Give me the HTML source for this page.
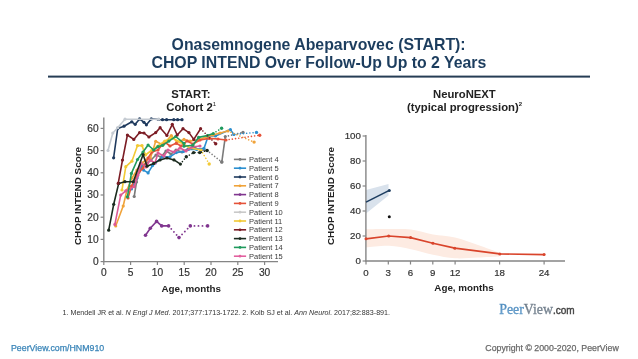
<!DOCTYPE html>
<html><head><meta charset="utf-8">
<style>
html,body{margin:0;padding:0;background:#fff;}
body{width:638px;height:359px;overflow:hidden;position:relative;font-family:"Liberation Sans",sans-serif;}
svg{position:absolute;left:0;top:0;filter:blur(0.4px);}
svg text{font-family:"Liberation Sans",sans-serif;}
</style></head><body>
<svg width="638" height="359" viewBox="0 0 638 359">
<text x="318.6" y="49.5" font-size="15.85" font-weight="700" fill="#1c3d5e" text-anchor="middle">Onasemnogene Abeparvovec (START):</text>
<text x="318.9" y="68.3" font-size="15.85" font-weight="700" fill="#1c3d5e" text-anchor="middle">CHOP INTEND Over Follow-Up Up to 2 Years</text>
<rect x="48" y="75.6" width="542" height="2" fill="#263d55"/>
<text x="190.9" y="97.6" font-size="11.3" font-weight="700" fill="#222" text-anchor="middle">START:</text>
<text x="166.3" y="110.8" font-size="11.3" font-weight="700" fill="#222">Cohort 2<tspan font-size="6" dy="-4.8" font-weight="400">1</tspan></text>
<text x="464.4" y="97.8" font-size="11.3" font-weight="700" fill="#222" text-anchor="middle">NeuroNEXT</text>
<text x="407" y="111" font-size="11.3" font-weight="700" fill="#222">(typical progression)<tspan font-size="6" dy="-4.8">2</tspan></text>
<text transform="translate(81,196) rotate(-90)" font-size="9.9" font-weight="700" fill="#222" text-anchor="middle">CHOP INTEND Score</text>
<text transform="translate(333.7,196) rotate(-90)" font-size="9.9" font-weight="700" fill="#222" text-anchor="middle">CHOP INTEND Score</text>
<text x="191.2" y="291.5" font-size="9.8" font-weight="700" fill="#222" text-anchor="middle">Age, months</text>
<text x="464" y="291" font-size="9.8" font-weight="700" fill="#222" text-anchor="middle">Age, months</text>
<line x1="103.8" y1="117.5" x2="103.8" y2="262" stroke="#858585" stroke-width="1.4"/>
<line x1="103.3" y1="261.6" x2="278" y2="261.6" stroke="#858585" stroke-width="1.4"/>
<line x1="100.6" y1="261.6" x2="103.8" y2="261.6" stroke="#858585" stroke-width="1.2"/>
<text x="98.6" y="264.9" font-size="10.2" fill="#333" stroke="#333" stroke-width="0.2" text-anchor="end">0</text>
<line x1="100.6" y1="239.4" x2="103.8" y2="239.4" stroke="#858585" stroke-width="1.2"/>
<text x="98.6" y="242.7" font-size="10.2" fill="#333" stroke="#333" stroke-width="0.2" text-anchor="end">10</text>
<line x1="100.6" y1="217.2" x2="103.8" y2="217.2" stroke="#858585" stroke-width="1.2"/>
<text x="98.6" y="220.5" font-size="10.2" fill="#333" stroke="#333" stroke-width="0.2" text-anchor="end">20</text>
<line x1="100.6" y1="195.0" x2="103.8" y2="195.0" stroke="#858585" stroke-width="1.2"/>
<text x="98.6" y="198.3" font-size="10.2" fill="#333" stroke="#333" stroke-width="0.2" text-anchor="end">30</text>
<line x1="100.6" y1="172.8" x2="103.8" y2="172.8" stroke="#858585" stroke-width="1.2"/>
<text x="98.6" y="176.1" font-size="10.2" fill="#333" stroke="#333" stroke-width="0.2" text-anchor="end">40</text>
<line x1="100.6" y1="150.6" x2="103.8" y2="150.6" stroke="#858585" stroke-width="1.2"/>
<text x="98.6" y="153.9" font-size="10.2" fill="#333" stroke="#333" stroke-width="0.2" text-anchor="end">50</text>
<line x1="100.6" y1="128.4" x2="103.8" y2="128.4" stroke="#858585" stroke-width="1.2"/>
<text x="98.6" y="131.7" font-size="10.2" fill="#333" stroke="#333" stroke-width="0.2" text-anchor="end">60</text>
<line x1="103.8" y1="261.6" x2="103.8" y2="265" stroke="#858585" stroke-width="1.2"/>
<text x="103.8" y="276.3" font-size="10.2" fill="#333" stroke="#333" stroke-width="0.2" text-anchor="middle">0</text>
<line x1="130.6" y1="261.6" x2="130.6" y2="265" stroke="#858585" stroke-width="1.2"/>
<text x="130.6" y="276.3" font-size="10.2" fill="#333" stroke="#333" stroke-width="0.2" text-anchor="middle">5</text>
<line x1="157.4" y1="261.6" x2="157.4" y2="265" stroke="#858585" stroke-width="1.2"/>
<text x="157.4" y="276.3" font-size="10.2" fill="#333" stroke="#333" stroke-width="0.2" text-anchor="middle">10</text>
<line x1="184.2" y1="261.6" x2="184.2" y2="265" stroke="#858585" stroke-width="1.2"/>
<text x="184.2" y="276.3" font-size="10.2" fill="#333" stroke="#333" stroke-width="0.2" text-anchor="middle">15</text>
<line x1="211.0" y1="261.6" x2="211.0" y2="265" stroke="#858585" stroke-width="1.2"/>
<text x="211.0" y="276.3" font-size="10.2" fill="#333" stroke="#333" stroke-width="0.2" text-anchor="middle">20</text>
<line x1="237.8" y1="261.6" x2="237.8" y2="265" stroke="#858585" stroke-width="1.2"/>
<text x="237.8" y="276.3" font-size="10.2" fill="#333" stroke="#333" stroke-width="0.2" text-anchor="middle">25</text>
<line x1="264.6" y1="261.6" x2="264.6" y2="265" stroke="#858585" stroke-width="1.2"/>
<text x="264.6" y="276.3" font-size="10.2" fill="#333" stroke="#333" stroke-width="0.2" text-anchor="middle">30</text>
<polygon points="366,190 388.5,184 388.5,195.5 366,213.6" fill="#d9e2ec"/>
<path d="M366,229.3 C369.8,229.2 381.5,229.0 389,229 C396.5,229.0 403.7,228.6 411,229.5 C418.3,230.4 425.7,233.2 433,234.5 C440.3,235.8 447.5,235.8 455,237.5 C462.5,239.2 470.7,242.5 478,245 C485.3,247.5 495.5,251.2 499,252.5 L499,256.5 C495.5,256.7 485.3,257.2 478,257.5 C470.7,257.8 462.5,258.8 455,258.3 C447.5,257.8 440.3,256.2 433,254.7 C425.7,253.2 418.3,250.8 411,249.3 C403.7,247.8 396.5,246.1 389,245.8 C381.5,245.5 369.8,247.2 366,247.5 Z" fill="#fdebe2"/>
<line x1="365.9" y1="135" x2="365.9" y2="261.5" stroke="#858585" stroke-width="1.4"/>
<line x1="365.4" y1="261" x2="565" y2="261" stroke="#858585" stroke-width="1.4"/>
<line x1="362.6" y1="261.0" x2="365.9" y2="261.0" stroke="#858585" stroke-width="1.2"/>
<text x="360.8" y="264.2" font-size="9.7" fill="#333" stroke="#333" stroke-width="0.2" text-anchor="end">0</text>
<line x1="362.6" y1="236.0" x2="365.9" y2="236.0" stroke="#858585" stroke-width="1.2"/>
<text x="360.8" y="239.2" font-size="9.7" fill="#333" stroke="#333" stroke-width="0.2" text-anchor="end">20</text>
<line x1="362.6" y1="211.0" x2="365.9" y2="211.0" stroke="#858585" stroke-width="1.2"/>
<text x="360.8" y="214.2" font-size="9.7" fill="#333" stroke="#333" stroke-width="0.2" text-anchor="end">40</text>
<line x1="362.6" y1="186.0" x2="365.9" y2="186.0" stroke="#858585" stroke-width="1.2"/>
<text x="360.8" y="189.2" font-size="9.7" fill="#333" stroke="#333" stroke-width="0.2" text-anchor="end">60</text>
<line x1="362.6" y1="161.0" x2="365.9" y2="161.0" stroke="#858585" stroke-width="1.2"/>
<text x="360.8" y="164.2" font-size="9.7" fill="#333" stroke="#333" stroke-width="0.2" text-anchor="end">80</text>
<line x1="362.6" y1="136.0" x2="365.9" y2="136.0" stroke="#858585" stroke-width="1.2"/>
<text x="360.8" y="139.2" font-size="9.7" fill="#333" stroke="#333" stroke-width="0.2" text-anchor="end">100</text>
<line x1="366.0" y1="261" x2="366.0" y2="264.5" stroke="#858585" stroke-width="1.2"/>
<text x="366.0" y="275.8" font-size="9.7" fill="#333" stroke="#333" stroke-width="0.2" text-anchor="middle">0</text>
<line x1="388.3" y1="261" x2="388.3" y2="264.5" stroke="#858585" stroke-width="1.2"/>
<text x="388.3" y="275.8" font-size="9.7" fill="#333" stroke="#333" stroke-width="0.2" text-anchor="middle">3</text>
<line x1="410.5" y1="261" x2="410.5" y2="264.5" stroke="#858585" stroke-width="1.2"/>
<text x="410.5" y="275.8" font-size="9.7" fill="#333" stroke="#333" stroke-width="0.2" text-anchor="middle">6</text>
<line x1="432.8" y1="261" x2="432.8" y2="264.5" stroke="#858585" stroke-width="1.2"/>
<text x="432.8" y="275.8" font-size="9.7" fill="#333" stroke="#333" stroke-width="0.2" text-anchor="middle">9</text>
<line x1="455.1" y1="261" x2="455.1" y2="264.5" stroke="#858585" stroke-width="1.2"/>
<text x="455.1" y="275.8" font-size="9.7" fill="#333" stroke="#333" stroke-width="0.2" text-anchor="middle">12</text>
<line x1="499.6" y1="261" x2="499.6" y2="264.5" stroke="#858585" stroke-width="1.2"/>
<text x="499.6" y="275.8" font-size="9.7" fill="#333" stroke="#333" stroke-width="0.2" text-anchor="middle">18</text>
<line x1="544.1" y1="261" x2="544.1" y2="264.5" stroke="#858585" stroke-width="1.2"/>
<text x="544.1" y="275.8" font-size="9.7" fill="#333" stroke="#333" stroke-width="0.2" text-anchor="middle">24</text>
<polyline points="366,202.1 389.3,190.4" fill="none" stroke="#1d3d60" stroke-width="1.6"/>
<circle cx="389.3" cy="190.4" r="1.5" fill="#1d3d60"/>
<circle cx="389.3" cy="216.8" r="1.5" fill="#111"/>
<polyline points="366,238.8 388.7,236 410.6,237.6 432.9,243.2 454.8,248.2 499.8,253.9 544.1,254.6" fill="none" stroke="#d9442b" stroke-width="1.7"/>
<circle cx="366" cy="238.8" r="1.5" fill="#d9442b"/>
<circle cx="388.7" cy="236" r="1.5" fill="#d9442b"/>
<circle cx="410.6" cy="237.6" r="1.5" fill="#d9442b"/>
<circle cx="432.9" cy="243.2" r="1.5" fill="#d9442b"/>
<circle cx="454.8" cy="248.2" r="1.5" fill="#d9442b"/>
<circle cx="499.8" cy="253.9" r="1.5" fill="#d9442b"/>
<circle cx="544.1" cy="254.6" r="1.5" fill="#d9442b"/>
<polyline points="134.2,196.5 136.5,182 139,172 143,165 147,163 151,160 156,155 161,157 166,151 171,154 176,150 182,152 188,149 195,148 201,150 207,150.5" fill="none" stroke="#7a7a7a" stroke-width="1.6" stroke-linejoin="round"/>
<circle cx="134.2" cy="196.5" r="1.6" fill="#7a7a7a"/>
<circle cx="136.5" cy="182" r="1.6" fill="#7a7a7a"/>
<circle cx="139" cy="172" r="1.6" fill="#7a7a7a"/>
<circle cx="143" cy="165" r="1.6" fill="#7a7a7a"/>
<circle cx="147" cy="163" r="1.6" fill="#7a7a7a"/>
<circle cx="151" cy="160" r="1.6" fill="#7a7a7a"/>
<circle cx="156" cy="155" r="1.6" fill="#7a7a7a"/>
<circle cx="161" cy="157" r="1.6" fill="#7a7a7a"/>
<circle cx="166" cy="151" r="1.6" fill="#7a7a7a"/>
<circle cx="171" cy="154" r="1.6" fill="#7a7a7a"/>
<circle cx="176" cy="150" r="1.6" fill="#7a7a7a"/>
<circle cx="182" cy="152" r="1.6" fill="#7a7a7a"/>
<circle cx="188" cy="149" r="1.6" fill="#7a7a7a"/>
<circle cx="195" cy="148" r="1.6" fill="#7a7a7a"/>
<circle cx="201" cy="150" r="1.6" fill="#7a7a7a"/>
<circle cx="207" cy="150.5" r="1.6" fill="#7a7a7a"/>
<polyline points="207,150.5 221.8,162" fill="none" stroke="#7a7a7a" stroke-width="1.6" stroke-dasharray="0.01 3.2" stroke-linecap="round"/>
<circle cx="221.8" cy="162" r="1.7" fill="#7a7a7a"/>
<polyline points="221.8,162 225.3,136.6" fill="none" stroke="#7a7a7a" stroke-width="1.6" stroke-linejoin="round"/>
<circle cx="221.8" cy="162" r="1.6" fill="#7a7a7a"/>
<circle cx="225.3" cy="136.6" r="1.6" fill="#7a7a7a"/>
<polyline points="225.3,136.6 243,132.4" fill="none" stroke="#7a7a7a" stroke-width="1.6" stroke-dasharray="0.01 3.2" stroke-linecap="round"/>
<circle cx="243" cy="132.4" r="1.7" fill="#7a7a7a"/>
<polyline points="131.5,189 137,178 140.7,166 143.6,170.1 148.1,172.9 152.5,165.6 155.3,163 162.6,156.8 170,156.8 176.2,152.6 183.5,151.5 188.4,149.5 196.7,149.5 204,148.4 208.2,135.9 215.5,135.9 230.4,129.6 233.9,134.5" fill="none" stroke="#2b8fd0" stroke-width="1.6" stroke-linejoin="round"/>
<circle cx="131.5" cy="189" r="1.6" fill="#2b8fd0"/>
<circle cx="137" cy="178" r="1.6" fill="#2b8fd0"/>
<circle cx="140.7" cy="166" r="1.6" fill="#2b8fd0"/>
<circle cx="143.6" cy="170.1" r="1.6" fill="#2b8fd0"/>
<circle cx="148.1" cy="172.9" r="1.6" fill="#2b8fd0"/>
<circle cx="152.5" cy="165.6" r="1.6" fill="#2b8fd0"/>
<circle cx="155.3" cy="163" r="1.6" fill="#2b8fd0"/>
<circle cx="162.6" cy="156.8" r="1.6" fill="#2b8fd0"/>
<circle cx="170" cy="156.8" r="1.6" fill="#2b8fd0"/>
<circle cx="176.2" cy="152.6" r="1.6" fill="#2b8fd0"/>
<circle cx="183.5" cy="151.5" r="1.6" fill="#2b8fd0"/>
<circle cx="188.4" cy="149.5" r="1.6" fill="#2b8fd0"/>
<circle cx="196.7" cy="149.5" r="1.6" fill="#2b8fd0"/>
<circle cx="204" cy="148.4" r="1.6" fill="#2b8fd0"/>
<circle cx="208.2" cy="135.9" r="1.6" fill="#2b8fd0"/>
<circle cx="215.5" cy="135.9" r="1.6" fill="#2b8fd0"/>
<circle cx="230.4" cy="129.6" r="1.6" fill="#2b8fd0"/>
<circle cx="233.9" cy="134.5" r="1.6" fill="#2b8fd0"/>
<polyline points="233.9,134.5 256.5,132.4" fill="none" stroke="#2b8fd0" stroke-width="1.6" stroke-dasharray="0.01 3.2" stroke-linecap="round"/>
<circle cx="256.5" cy="132.4" r="1.7" fill="#2b8fd0"/>
<polyline points="115.7,226 123.2,206 127,190 132,178 137,170 142,163 146,160 150.3,158.4 155.7,141.3 163,145 171.3,135.5 177,142 184,139.4 190,141 198,140 206,137 213,135 220,133 228,131" fill="none" stroke="#f0a33a" stroke-width="1.6" stroke-linejoin="round"/>
<circle cx="115.7" cy="226" r="1.6" fill="#f0a33a"/>
<circle cx="123.2" cy="206" r="1.6" fill="#f0a33a"/>
<circle cx="127" cy="190" r="1.6" fill="#f0a33a"/>
<circle cx="132" cy="178" r="1.6" fill="#f0a33a"/>
<circle cx="137" cy="170" r="1.6" fill="#f0a33a"/>
<circle cx="142" cy="163" r="1.6" fill="#f0a33a"/>
<circle cx="146" cy="160" r="1.6" fill="#f0a33a"/>
<circle cx="150.3" cy="158.4" r="1.6" fill="#f0a33a"/>
<circle cx="155.7" cy="141.3" r="1.6" fill="#f0a33a"/>
<circle cx="163" cy="145" r="1.6" fill="#f0a33a"/>
<circle cx="171.3" cy="135.5" r="1.6" fill="#f0a33a"/>
<circle cx="177" cy="142" r="1.6" fill="#f0a33a"/>
<circle cx="184" cy="139.4" r="1.6" fill="#f0a33a"/>
<circle cx="190" cy="141" r="1.6" fill="#f0a33a"/>
<circle cx="198" cy="140" r="1.6" fill="#f0a33a"/>
<circle cx="206" cy="137" r="1.6" fill="#f0a33a"/>
<circle cx="213" cy="135" r="1.6" fill="#f0a33a"/>
<circle cx="220" cy="133" r="1.6" fill="#f0a33a"/>
<circle cx="228" cy="131" r="1.6" fill="#f0a33a"/>
<polyline points="228,131 254.1,142.1" fill="none" stroke="#f0a33a" stroke-width="1.6" stroke-dasharray="0.01 3.2" stroke-linecap="round"/>
<circle cx="254.1" cy="142.1" r="1.7" fill="#f0a33a"/>
<polyline points="128,198 131.5,186 137,175 143,168 148,158 152,152 158,150 164.5,141.8 170,146 176.2,143.3 181,146 187,141 193,144 200,140 209.4,138.4 218,139 226,140" fill="none" stroke="#e5533a" stroke-width="1.6" stroke-linejoin="round"/>
<circle cx="128" cy="198" r="1.6" fill="#e5533a"/>
<circle cx="131.5" cy="186" r="1.6" fill="#e5533a"/>
<circle cx="137" cy="175" r="1.6" fill="#e5533a"/>
<circle cx="143" cy="168" r="1.6" fill="#e5533a"/>
<circle cx="148" cy="158" r="1.6" fill="#e5533a"/>
<circle cx="152" cy="152" r="1.6" fill="#e5533a"/>
<circle cx="158" cy="150" r="1.6" fill="#e5533a"/>
<circle cx="164.5" cy="141.8" r="1.6" fill="#e5533a"/>
<circle cx="170" cy="146" r="1.6" fill="#e5533a"/>
<circle cx="176.2" cy="143.3" r="1.6" fill="#e5533a"/>
<circle cx="181" cy="146" r="1.6" fill="#e5533a"/>
<circle cx="187" cy="141" r="1.6" fill="#e5533a"/>
<circle cx="193" cy="144" r="1.6" fill="#e5533a"/>
<circle cx="200" cy="140" r="1.6" fill="#e5533a"/>
<circle cx="209.4" cy="138.4" r="1.6" fill="#e5533a"/>
<circle cx="218" cy="139" r="1.6" fill="#e5533a"/>
<circle cx="226" cy="140" r="1.6" fill="#e5533a"/>
<polyline points="226,140 259.7,135.2" fill="none" stroke="#e5533a" stroke-width="1.6" stroke-dasharray="0.01 3.2" stroke-linecap="round"/>
<circle cx="259.7" cy="135.2" r="1.7" fill="#e5533a"/>
<polyline points="122,190 125.8,166.7 131.9,161.2 137.5,145.6 142,145.6 145.5,155 152,150 158,146 165,141 172,138 180,142 190,148 201,150" fill="none" stroke="#f2c935" stroke-width="1.6" stroke-linejoin="round"/>
<circle cx="122" cy="190" r="1.6" fill="#f2c935"/>
<circle cx="125.8" cy="166.7" r="1.6" fill="#f2c935"/>
<circle cx="131.9" cy="161.2" r="1.6" fill="#f2c935"/>
<circle cx="137.5" cy="145.6" r="1.6" fill="#f2c935"/>
<circle cx="142" cy="145.6" r="1.6" fill="#f2c935"/>
<circle cx="145.5" cy="155" r="1.6" fill="#f2c935"/>
<circle cx="152" cy="150" r="1.6" fill="#f2c935"/>
<circle cx="158" cy="146" r="1.6" fill="#f2c935"/>
<circle cx="165" cy="141" r="1.6" fill="#f2c935"/>
<circle cx="172" cy="138" r="1.6" fill="#f2c935"/>
<circle cx="180" cy="142" r="1.6" fill="#f2c935"/>
<circle cx="190" cy="148" r="1.6" fill="#f2c935"/>
<circle cx="201" cy="150" r="1.6" fill="#f2c935"/>
<polyline points="201,150 209.2,164" fill="none" stroke="#f2c935" stroke-width="1.6" stroke-dasharray="0.01 3.2" stroke-linecap="round"/>
<circle cx="209.2" cy="164" r="1.7" fill="#f2c935"/>
<polyline points="114.9,224.4 120.7,195.1 125.8,190.9 134.1,186.7 138,175 141,163 146,167 150,160 155,163 158,153 164,156 168,150 174,152 180,148 186,151 192,147 200,146" fill="none" stroke="#dc5a95" stroke-width="1.6" stroke-linejoin="round"/>
<circle cx="114.9" cy="224.4" r="1.6" fill="#dc5a95"/>
<circle cx="120.7" cy="195.1" r="1.6" fill="#dc5a95"/>
<circle cx="125.8" cy="190.9" r="1.6" fill="#dc5a95"/>
<circle cx="134.1" cy="186.7" r="1.6" fill="#dc5a95"/>
<circle cx="138" cy="175" r="1.6" fill="#dc5a95"/>
<circle cx="141" cy="163" r="1.6" fill="#dc5a95"/>
<circle cx="146" cy="167" r="1.6" fill="#dc5a95"/>
<circle cx="150" cy="160" r="1.6" fill="#dc5a95"/>
<circle cx="155" cy="163" r="1.6" fill="#dc5a95"/>
<circle cx="158" cy="153" r="1.6" fill="#dc5a95"/>
<circle cx="164" cy="156" r="1.6" fill="#dc5a95"/>
<circle cx="168" cy="150" r="1.6" fill="#dc5a95"/>
<circle cx="174" cy="152" r="1.6" fill="#dc5a95"/>
<circle cx="180" cy="148" r="1.6" fill="#dc5a95"/>
<circle cx="186" cy="151" r="1.6" fill="#dc5a95"/>
<circle cx="192" cy="147" r="1.6" fill="#dc5a95"/>
<circle cx="200" cy="146" r="1.6" fill="#dc5a95"/>
<polyline points="127.4,196.8 131.4,173.4 137.5,159.5 143,152 148.1,145 153.7,150 158,146.7 162.6,145.3 168.9,141.1 175.7,136.5 184,143.3 184,146.2 192.8,145.2 198.6,137.4 207.4,135.5 213.3,133.5" fill="none" stroke="#1f9a5d" stroke-width="1.6" stroke-linejoin="round"/>
<circle cx="127.4" cy="196.8" r="1.6" fill="#1f9a5d"/>
<circle cx="131.4" cy="173.4" r="1.6" fill="#1f9a5d"/>
<circle cx="137.5" cy="159.5" r="1.6" fill="#1f9a5d"/>
<circle cx="143" cy="152" r="1.6" fill="#1f9a5d"/>
<circle cx="148.1" cy="145" r="1.6" fill="#1f9a5d"/>
<circle cx="153.7" cy="150" r="1.6" fill="#1f9a5d"/>
<circle cx="158" cy="146.7" r="1.6" fill="#1f9a5d"/>
<circle cx="162.6" cy="145.3" r="1.6" fill="#1f9a5d"/>
<circle cx="168.9" cy="141.1" r="1.6" fill="#1f9a5d"/>
<circle cx="175.7" cy="136.5" r="1.6" fill="#1f9a5d"/>
<circle cx="184" cy="143.3" r="1.6" fill="#1f9a5d"/>
<circle cx="184" cy="146.2" r="1.6" fill="#1f9a5d"/>
<circle cx="192.8" cy="145.2" r="1.6" fill="#1f9a5d"/>
<circle cx="198.6" cy="137.4" r="1.6" fill="#1f9a5d"/>
<circle cx="207.4" cy="135.5" r="1.6" fill="#1f9a5d"/>
<circle cx="213.3" cy="133.5" r="1.6" fill="#1f9a5d"/>
<polyline points="213.3,133.5 221.6,128.2" fill="none" stroke="#1f9a5d" stroke-width="1.6" stroke-dasharray="0.01 3.2" stroke-linecap="round"/>
<circle cx="221.6" cy="128.2" r="1.7" fill="#1f9a5d"/>
<polyline points="108.7,230.2 113.7,204.3 118.7,183.4 124.9,181.7 133.3,181.7 143.1,154.5 147,166.2 153.7,163.4 160,160 167,158 174,159.9 180.4,164.1" fill="none" stroke="#1b2b1f" stroke-width="1.6" stroke-linejoin="round"/>
<circle cx="108.7" cy="230.2" r="1.6" fill="#1b2b1f"/>
<circle cx="113.7" cy="204.3" r="1.6" fill="#1b2b1f"/>
<circle cx="118.7" cy="183.4" r="1.6" fill="#1b2b1f"/>
<circle cx="124.9" cy="181.7" r="1.6" fill="#1b2b1f"/>
<circle cx="133.3" cy="181.7" r="1.6" fill="#1b2b1f"/>
<circle cx="143.1" cy="154.5" r="1.6" fill="#1b2b1f"/>
<circle cx="147" cy="166.2" r="1.6" fill="#1b2b1f"/>
<circle cx="153.7" cy="163.4" r="1.6" fill="#1b2b1f"/>
<circle cx="160" cy="160" r="1.6" fill="#1b2b1f"/>
<circle cx="167" cy="158" r="1.6" fill="#1b2b1f"/>
<circle cx="174" cy="159.9" r="1.6" fill="#1b2b1f"/>
<circle cx="180.4" cy="164.1" r="1.6" fill="#1b2b1f"/>
<polyline points="180.4,164.1 186.3,156.8 193.6,152.6 199.8,152.6 207.1,150.5" fill="none" stroke="#1b2b1f" stroke-width="1.6" stroke-dasharray="0.01 3.2" stroke-linecap="round"/>
<circle cx="186.3" cy="156.8" r="1.7" fill="#1b2b1f"/>
<circle cx="193.6" cy="152.6" r="1.7" fill="#1b2b1f"/>
<circle cx="199.8" cy="152.6" r="1.7" fill="#1b2b1f"/>
<circle cx="207.1" cy="150.5" r="1.7" fill="#1b2b1f"/>
<polyline points="118.2,183.4 122.5,160.1 127.4,135 133.8,139.4 139.6,132.6 144,133 148.9,137 155.7,132.6 160.1,127.7 166.9,135.5 172.3,124.3 177.2,135 183,128.7 188.9,132.6 193.8,139.4 200.6,128.7" fill="none" stroke="#7b1c24" stroke-width="1.6" stroke-linejoin="round"/>
<circle cx="118.2" cy="183.4" r="1.6" fill="#7b1c24"/>
<circle cx="122.5" cy="160.1" r="1.6" fill="#7b1c24"/>
<circle cx="127.4" cy="135" r="1.6" fill="#7b1c24"/>
<circle cx="133.8" cy="139.4" r="1.6" fill="#7b1c24"/>
<circle cx="139.6" cy="132.6" r="1.6" fill="#7b1c24"/>
<circle cx="144" cy="133" r="1.6" fill="#7b1c24"/>
<circle cx="148.9" cy="137" r="1.6" fill="#7b1c24"/>
<circle cx="155.7" cy="132.6" r="1.6" fill="#7b1c24"/>
<circle cx="160.1" cy="127.7" r="1.6" fill="#7b1c24"/>
<circle cx="166.9" cy="135.5" r="1.6" fill="#7b1c24"/>
<circle cx="172.3" cy="124.3" r="1.6" fill="#7b1c24"/>
<circle cx="177.2" cy="135" r="1.6" fill="#7b1c24"/>
<circle cx="183" cy="128.7" r="1.6" fill="#7b1c24"/>
<circle cx="188.9" cy="132.6" r="1.6" fill="#7b1c24"/>
<circle cx="193.8" cy="139.4" r="1.6" fill="#7b1c24"/>
<circle cx="200.6" cy="128.7" r="1.6" fill="#7b1c24"/>
<polyline points="200.6,128.7 215.7,143.8" fill="none" stroke="#7b1c24" stroke-width="1.6" stroke-dasharray="0.01 3.2" stroke-linecap="round"/>
<circle cx="215.7" cy="143.8" r="1.7" fill="#7b1c24"/>
<polyline points="113.6,157.8 117.7,128.5 124,126.2 131.8,121.8 135.2,124.3 139.6,118.9 144,122.3 146.4,124.8 151.3,118.9 158.6,119.5 162.5,119.7 166.6,119.7 173.8,119.7 177.6,119.7 182,119.7" fill="none" stroke="#1f3a5e" stroke-width="1.6" stroke-linejoin="round"/>
<circle cx="113.6" cy="157.8" r="1.6" fill="#1f3a5e"/>
<circle cx="117.7" cy="128.5" r="1.6" fill="#1f3a5e"/>
<circle cx="124" cy="126.2" r="1.6" fill="#1f3a5e"/>
<circle cx="131.8" cy="121.8" r="1.6" fill="#1f3a5e"/>
<circle cx="135.2" cy="124.3" r="1.6" fill="#1f3a5e"/>
<circle cx="139.6" cy="118.9" r="1.6" fill="#1f3a5e"/>
<circle cx="144" cy="122.3" r="1.6" fill="#1f3a5e"/>
<circle cx="146.4" cy="124.8" r="1.6" fill="#1f3a5e"/>
<circle cx="151.3" cy="118.9" r="1.6" fill="#1f3a5e"/>
<circle cx="158.6" cy="119.5" r="1.6" fill="#1f3a5e"/>
<circle cx="162.5" cy="119.7" r="1.6" fill="#1f3a5e"/>
<circle cx="166.6" cy="119.7" r="1.6" fill="#1f3a5e"/>
<circle cx="173.8" cy="119.7" r="1.6" fill="#1f3a5e"/>
<circle cx="177.6" cy="119.7" r="1.6" fill="#1f3a5e"/>
<circle cx="182" cy="119.7" r="1.6" fill="#1f3a5e"/>
<polyline points="108,150.5 112.8,133 117.7,127.7 125,119.2 158.6,119.2" fill="none" stroke="#c5cbd2" stroke-width="1.6" stroke-linejoin="round"/>
<circle cx="108" cy="150.5" r="1.6" fill="#c5cbd2"/>
<circle cx="112.8" cy="133" r="1.6" fill="#c5cbd2"/>
<circle cx="117.7" cy="127.7" r="1.6" fill="#c5cbd2"/>
<circle cx="125" cy="119.2" r="1.6" fill="#c5cbd2"/>
<circle cx="158.6" cy="119.2" r="1.6" fill="#c5cbd2"/>
<polyline points="145.5,235.2 150.3,228.3 156.6,221.4 161.7,225.9 168.6,225.9" fill="none" stroke="#80368f" stroke-width="1.6"/><circle cx="145.5" cy="235.2" r="1.8" fill="#80368f"/><circle cx="150.3" cy="228.3" r="1.8" fill="#80368f"/><circle cx="156.6" cy="221.4" r="1.8" fill="#80368f"/><circle cx="161.7" cy="225.9" r="1.8" fill="#80368f"/><circle cx="168.6" cy="225.9" r="1.8" fill="#80368f"/><polyline points="168.6,225.9 179,237.6 190.3,225.9 207.6,225.9" fill="none" stroke="#80368f" stroke-width="1.9" stroke-dasharray="0.01 4" stroke-linecap="round"/><circle cx="179" cy="237.6" r="1.8" fill="#80368f"/><circle cx="190.3" cy="225.9" r="1.8" fill="#80368f"/><circle cx="207.6" cy="225.9" r="1.8" fill="#80368f"/>
<line x1="233.9" y1="159.4" x2="246.1" y2="159.4" stroke="#7a7a7a" stroke-width="1.6"/><circle cx="240" cy="159.4" r="1.4" fill="#7a7a7a"/>
<text x="249" y="161.9" font-size="7.5" fill="#3a3a3a">Patient 4</text>
<line x1="233.9" y1="168.2" x2="246.1" y2="168.2" stroke="#2b8fd0" stroke-width="1.6"/><circle cx="240" cy="168.2" r="1.4" fill="#2b8fd0"/>
<text x="249" y="170.7" font-size="7.5" fill="#3a3a3a">Patient 5</text>
<line x1="233.9" y1="177.0" x2="246.1" y2="177.0" stroke="#1f3a5e" stroke-width="1.6"/><circle cx="240" cy="177.0" r="1.4" fill="#1f3a5e"/>
<text x="249" y="179.5" font-size="7.5" fill="#3a3a3a">Patient 6</text>
<line x1="233.9" y1="185.8" x2="246.1" y2="185.8" stroke="#f0a33a" stroke-width="1.6"/><circle cx="240" cy="185.8" r="1.4" fill="#f0a33a"/>
<text x="249" y="188.3" font-size="7.5" fill="#3a3a3a">Patient 7</text>
<line x1="233.9" y1="194.6" x2="246.1" y2="194.6" stroke="#80368f" stroke-width="1.6"/><circle cx="240" cy="194.6" r="1.4" fill="#80368f"/>
<text x="249" y="197.1" font-size="7.5" fill="#3a3a3a">Patient 8</text>
<line x1="233.9" y1="203.4" x2="246.1" y2="203.4" stroke="#e5533a" stroke-width="1.6"/><circle cx="240" cy="203.4" r="1.4" fill="#e5533a"/>
<text x="249" y="205.9" font-size="7.5" fill="#3a3a3a">Patient 9</text>
<line x1="233.9" y1="212.2" x2="246.1" y2="212.2" stroke="#c9c9c9" stroke-width="1.6"/><circle cx="240" cy="212.2" r="1.4" fill="#c9c9c9"/>
<text x="249" y="214.7" font-size="7.5" fill="#3a3a3a">Patient 10</text>
<line x1="233.9" y1="221.0" x2="246.1" y2="221.0" stroke="#f2c935" stroke-width="1.6"/><circle cx="240" cy="221.0" r="1.4" fill="#f2c935"/>
<text x="249" y="223.5" font-size="7.5" fill="#3a3a3a">Patient 11</text>
<line x1="233.9" y1="229.8" x2="246.1" y2="229.8" stroke="#7b1c24" stroke-width="1.6"/><circle cx="240" cy="229.8" r="1.4" fill="#7b1c24"/>
<text x="249" y="232.3" font-size="7.5" fill="#3a3a3a">Patient 12</text>
<line x1="233.9" y1="238.6" x2="246.1" y2="238.6" stroke="#1b2b1f" stroke-width="1.6"/><circle cx="240" cy="238.6" r="1.4" fill="#1b2b1f"/>
<text x="249" y="241.1" font-size="7.5" fill="#3a3a3a">Patient 13</text>
<line x1="233.9" y1="247.4" x2="246.1" y2="247.4" stroke="#1f9a5d" stroke-width="1.6"/><circle cx="240" cy="247.4" r="1.4" fill="#1f9a5d"/>
<text x="249" y="249.9" font-size="7.5" fill="#3a3a3a">Patient 14</text>
<line x1="233.9" y1="256.2" x2="246.1" y2="256.2" stroke="#e2609f" stroke-width="1.6"/><circle cx="240" cy="256.2" r="1.4" fill="#e2609f"/>
<text x="249" y="258.7" font-size="7.5" fill="#3a3a3a">Patient 15</text>
<text x="62.5" y="315" font-size="7.15" fill="#333">1. Mendell JR et al. <tspan font-style="italic">N Engl J Med</tspan>. 2017;377:1713-1722. 2. Kolb SJ et al. <tspan font-style="italic">Ann Neurol</tspan>. 2017;82:883-891.</text>
<defs><linearGradient id="pg" x1="0" y1="0" x2="0" y2="1"><stop offset="0" stop-color="#3f7fb5"/><stop offset="1" stop-color="#7fb0d8"/></linearGradient>
<linearGradient id="vg" x1="0" y1="0" x2="0" y2="1"><stop offset="0" stop-color="#5d6b78"/><stop offset="1" stop-color="#8c98a3"/></linearGradient></defs>
<text x="499.3" y="313.8" font-size="13.8" style="font-family:'Liberation Serif',serif"><tspan fill="url(#pg)" stroke="#5a95c5" stroke-width="0.35">Peer</tspan><tspan fill="url(#vg)" stroke="#7a8794" stroke-width="0.35">View</tspan><tspan fill="#444" stroke="#444" stroke-width="0.4" font-size="10" style="font-family:'Liberation Sans',sans-serif">.com</tspan></text>
<text x="11" y="350.7" font-size="8.8" fill="#3a85b8" stroke="#3a85b8" stroke-width="0.25">PeerView.com/HNM910</text>
<text x="485.3" y="351" font-size="8.8" fill="#6a6a6a" stroke="#6a6a6a" stroke-width="0.25">Copyright © 2000-2020, PeerView</text>
</svg>
</body></html>
